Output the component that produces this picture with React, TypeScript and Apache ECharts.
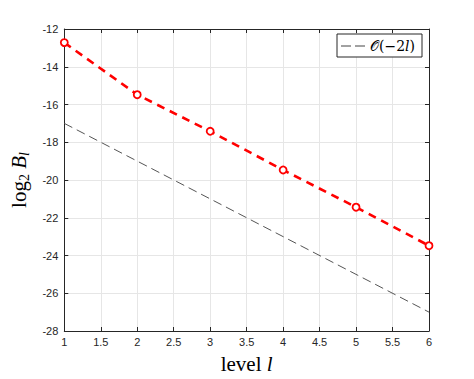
import React, { useEffect, useRef } from "react";
import * as echarts from "echarts";

const levels = [1, 2, 3, 4, 5, 6];
const log2B = [-12.72, -15.48, -17.42, -19.47, -21.44, -23.48];
const refLevels = [1, 6];
const refValues = [-17, -27];
const legendLabel = "𝒪(−2𝑙)";

export default function App() {
  const ref = useRef<HTMLDivElement>(null);
  useEffect(() => {
    if (!ref.current) return;
    const chart = echarts.init(ref.current, null, { renderer: "svg" });
    const axisCommon = {
      axisLine: { show: true, lineStyle: { color: "#262626", width: 1 } },
      axisTick: { show: true, inside: true, length: 4, lineStyle: { color: "#262626" } },
    };
    chart.setOption({
      animation: false,
      backgroundColor: "#ffffff",
      grid: { left: 62, right: 45, top: 29, bottom: 42, containLabel: false },
      xAxis: [
        {
          type: "value",
          min: 1,
          max: 6,
          interval: 0.5,
          ...axisCommon,
          axisLabel: {
            color: "#262626",
            fontFamily: "Liberation Sans, Arial, sans-serif",
            fontSize: 11,
            margin: 5,
          },
          splitLine: { show: true, lineStyle: { color: "#e6e6e6", width: 1 } },
          name: "level {i|l}",
          nameLocation: "middle",
          nameGap: 22,
          nameTextStyle: {
            fontFamily: "Liberation Serif, serif",
            fontSize: 21,
            color: "#000",
            rich: { i: { fontFamily: "Liberation Serif, serif", fontStyle: "italic", fontSize: 21, color: "#000" } },
          },
        },
        {
          type: "value",
          position: "top",
          min: 1,
          max: 6,
          interval: 0.5,
          ...axisCommon,
          axisLabel: { show: false },
          splitLine: { show: false },
        },
      ],
      yAxis: [
        {
          type: "value",
          min: -28,
          max: -12,
          interval: 2,
          ...axisCommon,
          axisLabel: {
            color: "#262626",
            fontFamily: "Liberation Sans, Arial, sans-serif",
            fontSize: 11,
            margin: 6,
          },
          splitLine: { show: true, lineStyle: { color: "#e6e6e6", width: 1 } },
          name: "{a|log}{s|2}{a| }{i|B}{si|l}",
          nameLocation: "middle",
          nameRotate: 90,
          nameGap: 30,
          nameTextStyle: {
            color: "#000",
            rich: {
              a: { fontFamily: "Liberation Serif, serif", fontSize: 21, color: "#000", lineHeight: 26 },
              s: { fontFamily: "Liberation Serif, serif", fontSize: 14, color: "#000", verticalAlign: "bottom", lineHeight: 26 },
              i: { fontFamily: "Liberation Serif, serif", fontStyle: "italic", fontSize: 21, color: "#000", lineHeight: 26 },
              si: { fontFamily: "Liberation Serif, serif", fontStyle: "italic", fontSize: 14, color: "#000", verticalAlign: "bottom", lineHeight: 26 },
            },
          },
        },
        {
          type: "value",
          position: "right",
          min: -28,
          max: -12,
          interval: 2,
          ...axisCommon,
          axisLabel: { show: false },
          splitLine: { show: false },
        },
      ],
      series: [
        {
          name: "ref",
          type: "line",
          data: refLevels.map((x, i) => [x, refValues[i]]),
          symbol: "none",
          lineStyle: { color: "#555555", width: 1, type: [9, 5] },
          z: 2,
        },
        {
          name: "B",
          type: "line",
          data: levels.map((x, i) => [x, log2B[i]]),
          symbol: "circle",
          symbolSize: 7,
          itemStyle: { color: "#ffffff", borderColor: "#ff0000", borderWidth: 1.8 },
          lineStyle: { color: "#ff0000", width: 2.6, type: [8, 6] },
          z: 3,
        },
      ],
      graphic: [
        {
          type: "rect",
          shape: { x: 337, y: 34, width: 85, height: 23 },
          style: { fill: "#ffffff", stroke: "#262626", lineWidth: 1 },
          z: 10,
        },
        {
          type: "line",
          shape: { x1: 341, y1: 46, x2: 365, y2: 46 },
          style: { stroke: "#444444", lineWidth: 1, lineDash: [10, 4] },
          z: 11,
        },
        {
          type: "text",
          x: 370,
          y: 46,
          style: {
            text: legendLabel,
            fontFamily: "DejaVu Serif, Liberation Serif, serif",
            fontSize: 14,
            fill: "#000",
            verticalAlign: "middle",
          },
          z: 11,
        },
      ],
    });
    return () => chart.dispose();
  }, []);
  return <div ref={ref} style={{ width: 474, height: 379, position: "absolute", left: 0, top: 0 }} />;
}
